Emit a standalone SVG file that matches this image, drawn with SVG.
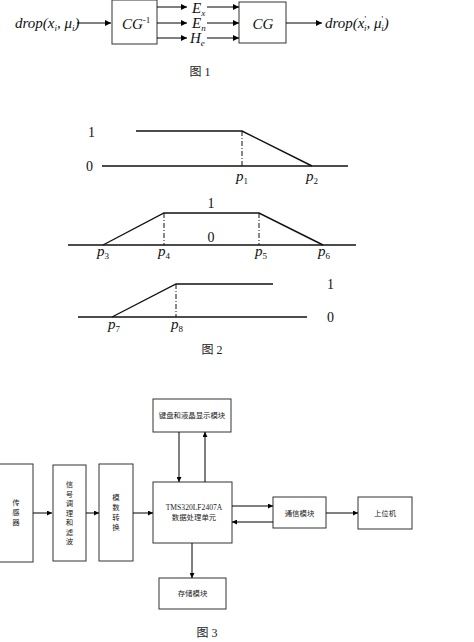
<svg xmlns="http://www.w3.org/2000/svg" width="474" height="642" viewBox="0 0 474 642">
<defs>
<marker id="ah" viewBox="0 0 10 10" refX="10" refY="5" markerWidth="8" markerHeight="6" markerUnits="userSpaceOnUse" orient="auto"><path d="M0,0 L10,5 L0,10 z" fill="#000"/></marker>
<marker id="ah3" viewBox="0 0 10 10" refX="10" refY="5" markerWidth="6" markerHeight="5" markerUnits="userSpaceOnUse" orient="auto"><path d="M0,0 L10,5 L0,10 z" fill="#000"/></marker>
</defs>
<style>
.bx{fill:#fff;stroke:#333;stroke-width:1}
.ln{stroke:#000;stroke-width:1;fill:none}
.f2{stroke:#111;stroke-width:1.4;fill:none}
.dd{stroke:#111;stroke-width:1;stroke-dasharray:5,2,1,2;fill:none}
.mi{font-family:"Liberation Serif",serif;font-style:italic;font-size:15px;fill:#111}
.rm{font-family:"Liberation Serif",serif;font-size:14px;fill:#111}
.cap{font-family:"Liberation Serif","Noto Sans CJK SC",serif;font-size:12px;fill:#222}
.cn{font-family:"Noto Sans CJK SC",sans-serif;font-size:7.4px;fill:#222}
.en{font-family:"Liberation Serif",serif;font-size:7.6px;fill:#222}
</style>
<rect width="474" height="642" fill="#fff"/>

<!-- Figure 1 -->
<g id="fig1-in"><text class="mi" x="15" y="28">drop(x<tspan dy="3" font-size="9">i</tspan><tspan dy="-3">, μ</tspan><tspan dy="3" font-size="9">i</tspan><tspan dy="-3">)</tspan></text></g>
<g id="cginv"><rect class="bx" x="112" y="0" width="45" height="44"/><text class="mi" x="122" y="29">CG<tspan dy="-6" font-size="9" font-style="normal">-1</tspan></text></g>
<g id="ex"><text class="mi" x="192" y="12.5">E<tspan dy="3" font-size="9">x</tspan></text></g>
<g id="en"><text class="mi" x="192" y="28">E<tspan dy="3" font-size="9">n</tspan></text></g>
<g id="he"><text class="mi" x="190" y="43">H<tspan dy="3" font-size="9">e</tspan></text></g>
<g id="cg"><rect class="bx" x="239" y="2" width="47" height="41"/><text class="mi" x="263" y="29" text-anchor="middle">CG</text></g>
<g id="fig1-out"><text class="mi" x="325" y="28">drop(x<tspan dy="-6" font-size="9" font-style="normal">'</tspan><tspan dx="-2" dy="9" font-size="9">i</tspan><tspan dy="-3">, μ</tspan><tspan dy="-6" font-size="9" font-style="normal">'</tspan><tspan dx="-2" dy="9" font-size="9">i</tspan><tspan dy="-3">)</tspan></text></g>
<g id="fig1-edges">
<line class="ln" x1="77" y1="23" x2="111" y2="23" marker-end="url(#ah)"/>
<line class="ln" x1="157" y1="7" x2="187" y2="7" marker-end="url(#ah)"/>
<line class="ln" x1="157" y1="23" x2="187" y2="23" marker-end="url(#ah)"/>
<line class="ln" x1="157" y1="38" x2="187" y2="38" marker-end="url(#ah)"/>
<line class="ln" x1="207" y1="7" x2="239" y2="7" marker-end="url(#ah)"/>
<line class="ln" x1="207" y1="23" x2="239" y2="23" marker-end="url(#ah)"/>
<line class="ln" x1="207" y1="38" x2="239" y2="38" marker-end="url(#ah)"/>
<line class="ln" x1="286" y1="23" x2="322" y2="23" marker-end="url(#ah)"/>
</g>
<text class="cap" x="200" y="76" text-anchor="middle">图 1</text>

<!-- Figure 2 -->
<g id="fig2a">
<polyline class="f2" points="136,131 242,131 312,166"/>
<line class="f2" x1="102" y1="166" x2="348" y2="166"/>
<line class="dd" x1="242" y1="131" x2="242" y2="166"/>
<text class="rm" x="88" y="137">1</text>
<text class="rm" x="86" y="171">0</text>
<text class="mi" x="236" y="181">p<tspan dy="3" font-size="9" font-style="normal">1</tspan></text>
<text class="mi" x="306" y="181">p<tspan dy="3" font-size="9" font-style="normal">2</tspan></text>
</g>
<g id="fig2b">
<polyline class="f2" points="103,245 164,213 259,213 323,245"/>
<line class="f2" x1="68" y1="245" x2="356" y2="245"/>
<line class="dd" x1="164" y1="213" x2="164" y2="245"/>
<line class="dd" x1="259" y1="213" x2="259" y2="245"/>
<text class="rm" x="211" y="208" text-anchor="middle">1</text>
<text class="rm" x="211" y="242" text-anchor="middle">0</text>
<text class="mi" x="97" y="256">p<tspan dy="3" font-size="9" font-style="normal">3</tspan></text>
<text class="mi" x="158" y="256">p<tspan dy="3" font-size="9" font-style="normal">4</tspan></text>
<text class="mi" x="255" y="256">p<tspan dy="3" font-size="9" font-style="normal">5</tspan></text>
<text class="mi" x="318" y="256">p<tspan dy="3" font-size="9" font-style="normal">6</tspan></text>
</g>
<g id="fig2c">
<polyline class="f2" points="112,317 176,284 273,284"/>
<line class="f2" x1="78" y1="317" x2="307" y2="317"/>
<line class="dd" x1="176" y1="284" x2="176" y2="317"/>
<text class="rm" x="327" y="289">1</text>
<text class="rm" x="327" y="322">0</text>
<text class="mi" x="108" y="329">p<tspan dy="3" font-size="9" font-style="normal">7</tspan></text>
<text class="mi" x="171" y="329">p<tspan dy="3" font-size="9" font-style="normal">8</tspan></text>
</g>
<text class="cap" x="212" y="354" text-anchor="middle">图 2</text>

<!-- Figure 3 -->
<g id="sensor"><rect class="bx" x="-1" y="464" width="34" height="98"/>
<text class="cn" text-anchor="middle"><tspan x="16" y="505">传</tspan><tspan x="16" y="515">感</tspan><tspan x="16" y="525">器</tspan></text></g>
<g id="cond"><rect class="bx" x="53" y="465" width="33" height="96"/>
<text class="cn" text-anchor="middle"><tspan x="69.5" y="487">信</tspan><tspan x="69.5" y="496.5">号</tspan><tspan x="69.5" y="506">调</tspan><tspan x="69.5" y="515.5">理</tspan><tspan x="69.5" y="525">和</tspan><tspan x="69.5" y="534.5">滤</tspan><tspan x="69.5" y="544">波</tspan></text></g>
<g id="adc"><rect class="bx" x="99" y="464" width="34" height="97"/>
<text class="cn" text-anchor="middle"><tspan x="116" y="500">模</tspan><tspan x="116" y="510">数</tspan><tspan x="116" y="520">转</tspan><tspan x="116" y="530">换</tspan></text></g>
<g id="dsp"><rect class="bx" x="153" y="482" width="79" height="61"/>
<text class="en" x="194" y="510" text-anchor="middle">TMS320LF2407A</text>
<text class="cn" x="194" y="520" text-anchor="middle">数据处理单元</text></g>
<g id="kbd"><rect class="bx" x="153" y="399" width="78" height="33"/>
<text class="cn" x="192" y="418" text-anchor="middle">键盘和液晶显示模块</text></g>
<g id="comm"><rect class="bx" x="273" y="497" width="53" height="31"/>
<text class="cn" x="299.5" y="516" text-anchor="middle">通信模块</text></g>
<g id="host"><rect class="bx" x="358" y="497" width="54" height="32"/>
<text class="cn" x="385" y="516" text-anchor="middle">上位机</text></g>
<g id="store"><rect class="bx" x="159" y="578" width="67" height="31"/>
<text class="cn" x="192.5" y="596" text-anchor="middle">存储模块</text></g>
<g id="fig3-edges">
<line class="ln" x1="33" y1="513" x2="52" y2="513" marker-end="url(#ah3)"/>
<line class="ln" x1="86" y1="513" x2="99" y2="513" marker-end="url(#ah3)"/>
<line class="ln" x1="133" y1="513" x2="153" y2="513" marker-end="url(#ah3)"/>
<line class="ln" x1="179" y1="432" x2="179" y2="482" marker-end="url(#ah3)"/>
<line class="ln" x1="205" y1="482" x2="205" y2="432" marker-end="url(#ah3)"/>
<line class="ln" x1="232" y1="506" x2="273" y2="506" marker-end="url(#ah3)"/>
<line class="ln" x1="273" y1="522" x2="232" y2="522" marker-end="url(#ah3)"/>
<line class="ln" x1="326" y1="513" x2="358" y2="513" marker-end="url(#ah3)"/>
<line class="ln" x1="192" y1="543" x2="192" y2="578" marker-end="url(#ah3)"/>
</g>
<text class="cap" x="207" y="637" text-anchor="middle">图 3</text>
</svg>
